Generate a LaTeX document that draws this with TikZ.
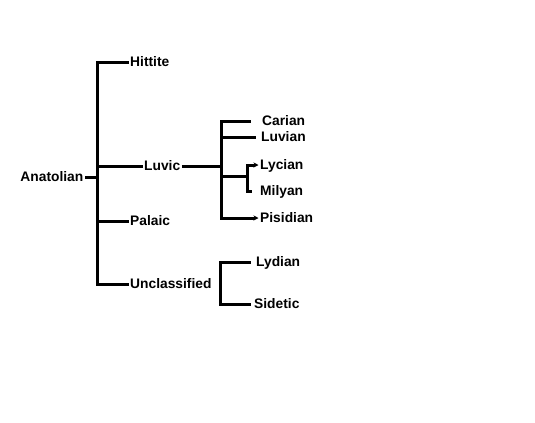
\documentclass[tikz,border=0pt]{standalone}
\usepackage{fontspec}
\setmainfont{Liberation Sans}
\usepackage{tikz}
\usetikzlibrary{calc,arrows.meta}
\tikzset{
   lang/.style={anchor=west, inner sep=1.5bp, text height=9.8bp, text depth=0bp,
                font=\fontsize{13.8bp}{16bp}\selectfont\bfseries},
   branch/.style={draw=black, line width=3bp, line cap=butt},
   tip/.style={-{Stealth[length=5bp,width=5bp]}}
}
\begin{document}
\begin{tikzpicture}[x=1bp,y=-1bp]
  \useasboundingbox[fill=white] (0,0) rectangle (535,422);
  % languages
  \node[lang, anchor=east] (anat) at (85,177) {Anatolian};
  \node[lang] (hittite) at (128.5,62) {Hittite};
  \node[lang] (luvic) at (142.5,166) {Luvic};
  \node[lang] (palaic) at (128.5,221) {Palaic};
  \node[lang] (uncl) at (128.5,284) {Unclassified};
  \node[lang] (carian) at (260.5,121) {Carian};
  \node[lang] (luvian) at (259.5,137) {Luvian};
  \node[lang] (lycian) at (258.5,165) {Lycian};
  \node[lang] (milyan) at (258.5,191) {Milyan};
  \node[lang] (pisidian) at (258.5,218) {Pisidian};
  \node[lang] (lydian) at (254.5,262) {Lydian};
  \node[lang] (sidetic) at (252.5,304) {Sidetic};
  \coordinate (trunk) at (97,177);
  \coordinate (lv) at (221,166);
  \coordinate (lm) at (247,176);
  \coordinate (uc) at (220,283);
  % tree
  \path[branch]
    (anat.east) -- (trunk)
    (hittite.west) -| (trunk) |- (uncl.west)
    (trunk |- luvic.west) -- (luvic.west)
    (trunk |- palaic.west) -- (palaic.west)
    (luvic.east) -- (lv)
    (lm -| lv) -- (lm)
    ([xshift=-10bp]carian.west) -| (lv)
    (lv |- luvian.west) -- ([xshift=-4bp]luvian.west)
    ([xshift=-4bp]lydian.west) -| (uc) |- ([xshift=-2bp]sidetic.west);
  \draw[branch, tip] (lm) |- (lycian.west);
  \draw[branch] (lm) |- ([xshift=-7bp]milyan.west);
  \draw[branch, tip] (lv) |- (pisidian.west);
\end{tikzpicture}
\end{document}
